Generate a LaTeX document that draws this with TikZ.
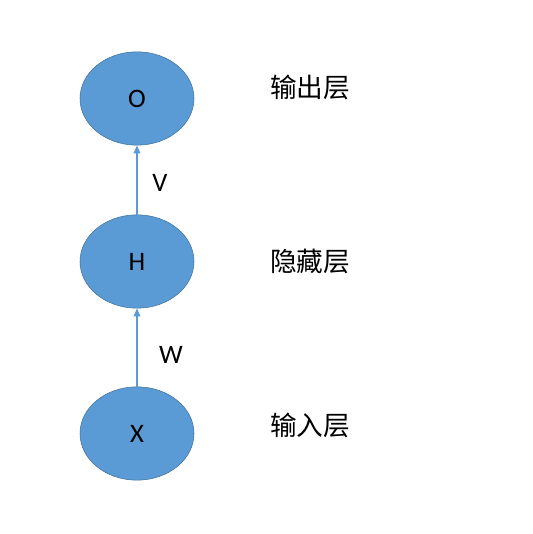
\documentclass[tikz,border=0pt]{standalone}
\usepackage{fontspec}
\setmainfont{Carlito}
\newfontfamily\cjk{Noto Sans CJK SC}
\definecolor{nodefill}{HTML}{5B9BD5}
\definecolor{nodeline}{HTML}{41719C}
\usetikzlibrary{arrows.meta,shapes.geometric}
\begin{document}
\begin{tikzpicture}[x=0.75pt,y=0.75pt,yscale=-1,
  unit/.style={ellipse,draw=nodeline,fill=nodefill,minimum width=85.5pt,minimum height=70pt,inner sep=0pt,font=\fontsize{20}{24}\selectfont},
  layer/.style={font=\cjk\fontsize{20}{24}\selectfont},
  wlabel/.style={font=\fontsize{20}{24}\selectfont},
  link/.style={draw=nodefill,line width=1.2pt,-{Triangle[length=6pt,width=5pt]}}]
\useasboundingbox (0,0) rectangle (532,534);

% units
\node [unit] (o) at (137,98.5) {O};
\node [unit] (h) at (137,261.5) {H};
\node [unit] (x) at (137,433.5) {X};

% connectors
\draw [link] (h) -- (o);
\draw [link] (x) -- (h);

% labels
\node [wlabel] (v) at (160,183) {V};
\node [wlabel] (w) at (171,355) {W};
\node [layer] (out) at (310,87) {输出层};
\node [layer] (hid) at (310,261) {隐藏层};
\node [layer] (in) at (310,425) {输入层};
\end{tikzpicture}
\end{document}
